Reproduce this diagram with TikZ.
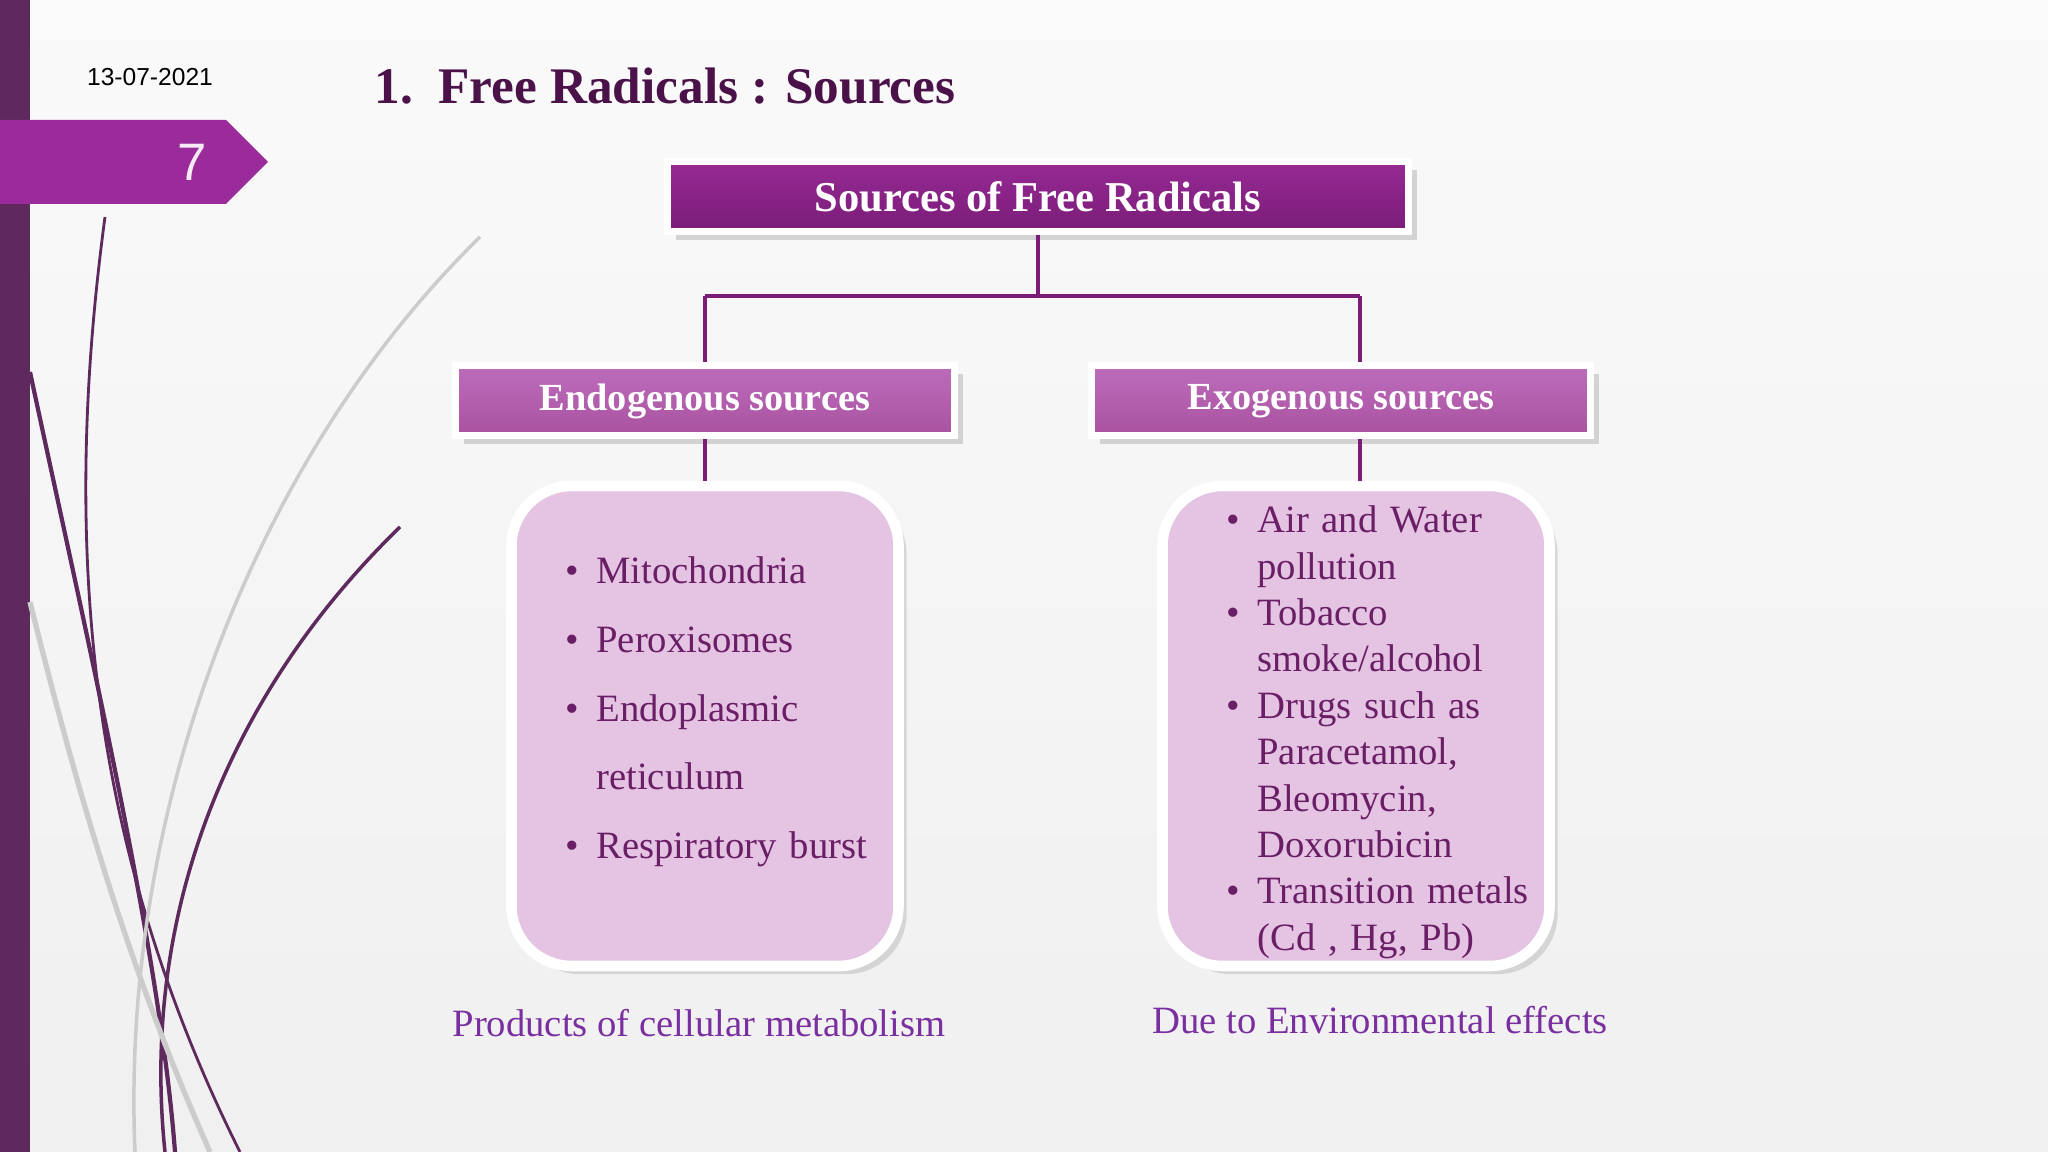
\documentclass[tikz,border=0pt]{standalone}
\usepackage{fontspec}
\setmainfont{Liberation Serif}
\setsansfont{Liberation Sans}
\usepackage{enumitem}
\usetikzlibrary{positioning, shadows}
\definecolor{barpurple}{HTML}{5E2A5E}
\definecolor{tabpurple}{HTML}{9B2A9B}
\definecolor{titlepurple}{HTML}{4A1248}
\definecolor{headtop}{HTML}{962A94}
\definecolor{headbot}{HTML}{7A1C78}
\definecolor{subtop}{HTML}{BC6CBC}
\definecolor{subbot}{HTML}{A9529F}
\definecolor{boxfill}{HTML}{E4C4E2}
\definecolor{itemtext}{HTML}{6A1E66}
\definecolor{captext}{HTML}{7A2FA0}
\tikzset{
    head/.style={
        draw=white, line width=2pt,
        top color=headtop, bottom color=headbot,
        minimum width=7.41cm, minimum height=0.7cm,
        text=white, font=\fontsize{12.1}{15}\selectfont\bfseries,
        drop shadow={opacity=0.3}
    },
    sub/.style={
        draw=white, line width=2pt,
        top color=subtop, bottom color=subbot,
        minimum width=4.99cm, minimum height=0.7cm,
        text=white, font=\fontsize{10.9}{14}\selectfont\bfseries,
        drop shadow={opacity=0.3}
    },
    list/.style={
        draw=white, line width=3pt, fill=boxfill,
        rounded corners=0.6cm,
        minimum width=3.87cm, minimum height=4.8cm,
        drop shadow={opacity=0.25}
    },
    caption/.style={text=captext, font=\fontsize{11}{14}\selectfont},
    line/.style={draw=headbot, line width=1pt}
}
\begin{document}
\begin{tikzpicture}
    \useasboundingbox (0,0) rectangle (20.48,11.52);
    \shade[top color=gray!4, bottom color=gray!12] (0,0) rectangle (20.48,11.52);

    % decoration on the left
    \fill[barpurple] (0,0) rectangle (0.30,11.52);
    \draw[barpurple, line width=0.8pt] (1.05,9.35) .. controls (0.6,6) and (0.9,3) .. (2.40,0);
    \draw[barpurple, line width=1.2pt] (0.30,7.8) .. controls (0.9,5) and (1.6,2) .. (1.75,0);
    \draw[barpurple, line width=1pt] (4.00,6.25) .. controls (2.3,4.6) and (1.4,2.4) .. (1.65,0);
    \draw[gray!40, line width=1pt] (4.80,9.15) .. controls (2.6,7) and (1.2,3.5) .. (1.35,0);
    \draw[gray!40, line width=1.5pt] (0.30,5.5) .. controls (0.8,3.5) and (1.3,1.8) .. (2.10,0);

    % slide number tab and date
    \fill[tabpurple] (0,10.32) -- (2.26,10.32) -- (2.68,9.90) -- (2.26,9.48) -- (0,9.48) -- cycle;
    \node[text=white!90!tabpurple, font=\sffamily\fontsize{15}{18}\selectfont] (num) at (1.92,9.90) {7};
    \node[font=\sffamily\fontsize{7}{9}\selectfont] (date) at (1.50,10.75) {13-07-2021};

    % title
    \node[anchor=west, text=titlepurple, font=\fontsize{14.6}{18}\selectfont\bfseries] (title)
        at (3.62,10.66) {1.\ \ Free Radicals : Sources};

    % headers
    \node[head] (src) at (10.38,9.55) {Sources of Free Radicals};
    \node[sub] (endo) at (7.05,7.51) {Endogenous sources};
    \node[sub] (exo) at (13.41,7.51) {Exogenous sources};

    % lists
    \node[list] (endoList) at (7.05,4.26) {};
    \node[list] (exoList) at (13.56,4.26) {};
    \node[anchor=north west, text=itemtext, text width=3.7cm, font=\fontsize{11}{19.6}\selectfont, align=left] (endoItems) at (5.12,6.50) {%
        \begin{itemize}[leftmargin=0.72cm, itemsep=0pt, topsep=0pt, parsep=0pt]
        \item Mitochondria
        \item Peroxisomes
        \item Endoplasmic\\ reticulum
        \item Respiratory burst
        \end{itemize}};
    \node[anchor=north west, text=itemtext, text width=3.7cm, font=\fontsize{11}{13.2}\selectfont, align=left] (exoItems) at (11.73,6.78) {%
        \begin{itemize}[leftmargin=0.72cm, itemsep=0pt, topsep=0pt, parsep=0pt]
        \item Air and Water\\ pollution
        \item Tobacco\\ smoke/alcohol
        \item Drugs such as\\ Paracetamol,\\ Bleomycin,\\ Doxorubicin
        \item Transition metals\\ (Cd , Hg, Pb)
        \end{itemize}};

    % connectors
    \coordinate (split) at (10.38,8.56);
    \coordinate (leftTop) at (7.05,8.56);
    \coordinate (rightTop) at (13.60,8.56);
    \draw[line] (src.south) -- (split);
    \draw[line] (leftTop) -- (rightTop);
    \draw[line] (leftTop) -- (leftTop |- endo.north);
    \draw[line] (rightTop) -- (rightTop |- exo.north);
    \draw[line] (endo.south) -- (endoList.north);
    \draw[line] (rightTop |- exo.south) -- (rightTop |- exoList.north);

    % captions
    \node[caption] (endoCap) at (6.99,1.29) {Products of cellular metabolism};
    \node[caption] (exoCap) at (13.80,1.32) {Due to Environmental effects};
\end{tikzpicture}
\end{document}
